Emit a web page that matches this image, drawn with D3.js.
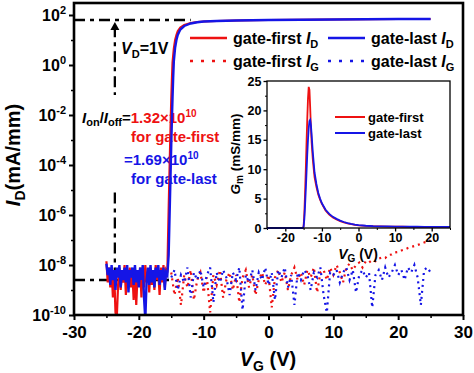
<!DOCTYPE html>
<html><head><meta charset="utf-8">
<script src="https://cdn.jsdelivr.net/npm/d3@7"></script>
<style>
body{margin:0;background:#fff}
svg{display:block}
text{font-family:"Liberation Sans",Arial,sans-serif;font-weight:bold}
</style>
</head><body>
<svg id="c" width="474" height="373"></svg>
<script>
// ---------------- DATA ----------------
const xTickValues = [-30,-20,-10,0,10,20,30];
const xMinorTicks = [-25,-15,-5,5,15,25];
const yTickExps = [-10,-8,-6,-4,-2,0,2];
const yMinorExps = [-9,-7,-5,-3,-1,1];

// I_D off-state (log10 mA/mm), V_G from -25 to -15.8 step 0.2
const idOffStart = -25, idOffStep = 0.2;
const idFirstOffLog = [-7.85,-8.7,-8.1,-8.9,-8.2,-9.3,-8.3,-9.9,-10.1,-8.8,-8.1,-9.0,-8.3,-8.7,-8.0,-9.2,-8.2,-8.6,-8.1,-8.9,-8.3,-9.4,-8.2,-9.6,-8.4,-8.8,-8.1,-9.3,-8.2,-8.9,-8.0,-8.7,-8.3,-9.1,-8.1,-8.8,-8.2,-9.0,-8.0,-8.6,-8.3,-9.2,-8.1,-8.7,-8.0,-8.9,-8.2];
const idLastOffLog = [-7.95,-8.4,-8.1,-8.8,-8.0,-8.6,-8.2,-9.0,-8.1,-8.5,-8.0,-8.9,-8.2,-8.6,-8.1,-8.7,-8.0,-9.1,-8.2,-8.5,-8.1,-8.8,-8.0,-8.7,-8.2,-8.9,-8.1,-8.6,-8.0,-9.3,-10.2,-8.6,-8.1,-8.8,-8.0,-8.7,-8.2,-8.9,-8.1,-8.5,-8.0,-8.8,-8.2,-8.6,-8.1,-9.0,-8.3];
// I_D turn-on and on-state
const idFirstOnV   = [-15.6,-15.5,-15.4,-15.3,-15.2,-15.1,-15.0,-14.9,-14.8,-14.6,-14.4,-14.2,-14.0,-13.6,-13.0,-12.0,-11,-10,-8,-5,0,5,10,15,20,25];
const idFirstOnLog = [-8.3,-7.0,-5.8,-4.6,-3.5,-2.4,-1.4,-0.6,0.1,0.65,1.0,1.2,1.35,1.5,1.6,1.68,1.72,1.74,1.76,1.78,1.8,1.81,1.82,1.83,1.84,1.84];
const idLastOnV    = [-15.6,-15.4,-15.3,-15.2,-15.1,-15.0,-14.9,-14.8,-14.7,-14.6,-14.4,-14.2,-14.0,-13.6,-13.0,-12.0,-11,-10,-8,-5,0,5,10,15,20,25];
const idLastOnLog  = [-8.4,-7.6,-6.5,-5.4,-4.3,-3.2,-2.2,-1.3,-0.5,0.15,0.7,1.0,1.2,1.42,1.56,1.66,1.71,1.74,1.76,1.78,1.8,1.81,1.82,1.83,1.84,1.84];

// I_G (log10 mA/mm), V_G from -15 to 25 step 0.5
const igStart = -15, igStep = 0.5;
const igFirstLog = [-8.3,-9.2,-8.5,-9.6,-8.4,-8.9,-8.2,-9.4,-8.6,-8.3,-9.1,-8.5,-9.9,-8.4,-8.8,-8.2,-9.3,-8.6,-8.3,-9.0,-8.4,-9.5,-8.5,-8.2,-8.9,-8.4,-9.2,-8.6,-8.3,-8.8,-8.4,-9.7,-8.5,-8.2,-8.7,-8.3,-9.0,-8.4,-8.1,-8.6,-8.3,-8.8,-8.2,-8.5,-8.1,-9.1,-8.3,-8.2,-8.6,-8.1,-8.4,-8.0,-8.3,-8.7,-8.1,-7.95,-8.2,-8.0,-7.9,-8.1,-7.85,-7.9,-7.8,-7.85,-7.75,-7.7,-7.72,-7.6,-7.58,-7.5,-7.48,-7.42,-7.38,-7.32,-7.28,-7.24,-7.2,-7.15,-7.1,-7.06,-7.02];
const igLastLog = [-8.5,-8.2,-9.0,-8.4,-8.7,-8.1,-9.3,-8.3,-8.6,-8.2,-8.9,-8.4,-8.1,-9.5,-8.3,-8.7,-8.2,-8.5,-9.2,-8.3,-8.6,-8.1,-9.8,-8.4,-8.7,-8.2,-9.0,-8.3,-8.6,-8.1,-8.8,-8.3,-9.4,-8.2,-8.5,-8.1,-8.9,-8.4,-9.6,-8.3,-8.6,-8.2,-8.4,-9.0,-8.3,-8.5,-8.1,-9.2,-9.9,-8.3,-8.4,-8.2,-8.7,-8.3,-8.1,-8.6,-8.2,-9.1,-8.4,-8.2,-8.5,-8.3,-9.7,-8.4,-8.2,-8.6,-8.1,-8.5,-8.3,-8.0,-8.4,-8.2,-8.6,-8.1,-8.3,-8.0,-8.5,-9.6,-8.2,-8.1,-8.3];

// Inset: transconductance G_m (mS/mm)
const gmV     = [-25,-20,-16,-15.2,-15,-14.8,-14.6,-14.4,-14.2,-14,-13.8,-13.6,-13.4,-13.2,-13,-12.8,-12.5,-12.2,-12,-11.5,-11,-10.5,-10,-9,-8,-7,-6,-5,-4,-3,-2,-1,0,2,4,6,8,10,12,14,16,18,20,22,24,25];
const gmFirst = [0,0,0,0,0.3,2.5,6,10,14.5,18.5,22,24,23.5,20.5,17,14.5,11.8,9.8,8.6,7.0,5.7,4.8,4.1,3.0,2.3,1.8,1.45,1.15,0.95,0.78,0.64,0.54,0.45,0.36,0.3,0.27,0.25,0.22,0.21,0.2,0.2,0.19,0.19,0.18,0.18,0.18];
const gmLast  = [0,0,0,0,0.2,1.5,3.8,6.5,9.5,12.5,15,17,18.2,18.4,17.5,15.8,13,10.8,9.4,7.5,6.0,5.0,4.2,3.1,2.4,1.9,1.55,1.25,1.02,0.84,0.7,0.58,0.48,0.38,0.32,0.29,0.26,0.24,0.22,0.21,0.21,0.2,0.2,0.2,0.2,0.2];
const insetXTicks = [-20,-10,0,10,20];
const insetXMinor = [-25,-15,-5,5,15,25];
const insetYTicks = [0,5,10,15,20,25];
const insetYMinor = [2.5,7.5,12.5,17.5,22.5];

// annotations (V_G, log10 I_D)
const vdLineV = -23.7;
const topHLine = {v0:-30, v1:-12, lg:1.8};
const botHLine = {v0:-30, v1:-15.2, lg:-8.6};
const vSegUpper = {lg0:1.55, lg1:-1.2};
const vSegLower = {lg0:-5.1, lg1:-8.35};

const legendMain = [
  {name:"gate-first", sub:"D", color:"#ee1111", dash:null,  col:0,row:0},
  {name:"gate-last",  sub:"D", color:"#1515e6", dash:null,  col:1,row:0},
  {name:"gate-first", sub:"G", color:"#ee1111", dash:"3,8", col:0,row:1},
  {name:"gate-last",  sub:"G", color:"#1515e6", dash:"3,8", col:1,row:1}
];
const RED="#ee1111", BLUE="#1515e6";

// ---------------- CHART ----------------
const svg = d3.select("#c");
const L=74,R=463,T=3,B=315;
const x = d3.scaleLinear().domain([-30,30]).range([L,R]);
const y = d3.scaleLog().domain([1e-10, Math.pow(10,2.48)]).range([B,T]);
const p10 = v => Math.pow(10,v);
const fmt = d => String(d);

svg.append("defs").append("clipPath").attr("id","clipMain")
  .append("rect").attr("x",L).attr("y",T).attr("width",R-L).attr("height",B-T);

// axes ticks
const gx = svg.append("g").attr("transform",`translate(0,${B})`)
  .call(d3.axisBottom(x).tickValues(xTickValues).tickSize(5).tickSizeOuter(0).tickPadding(6).tickFormat(fmt));
gx.select(".domain").remove();
gx.selectAll("line").attr("stroke-width",2);
gx.selectAll("text").attr("font-size",17).attr("font-family","Liberation Sans, Arial").attr("font-weight","bold").attr("fill","#000");
svg.append("g").attr("transform",`translate(0,${B})`)
  .call(d3.axisBottom(x).tickValues(xMinorTicks).tickSize(3).tickSizeOuter(0).tickFormat(""))
  .call(g=>{g.select(".domain").remove(); g.selectAll("line").attr("stroke-width",1.5);});

const gy = svg.append("g").attr("transform",`translate(${L},0)`)
  .call(d3.axisLeft(y).tickValues(yTickExps.map(p10)).tickSize(5).tickSizeOuter(0).tickFormat(""));
gy.select(".domain").remove(); gy.selectAll("line").attr("stroke-width",2);
svg.append("g").attr("transform",`translate(${L},0)`)
  .call(d3.axisLeft(y).tickValues(yMinorExps.map(p10)).tickSize(3).tickSizeOuter(0).tickFormat(""))
  .call(g=>{g.select(".domain").remove(); g.selectAll("line").attr("stroke-width",1.5);});

yTickExps.forEach(e=>{
  const t = svg.append("text").attr("x",66).attr("y",y(p10(e))+6).attr("text-anchor","end").attr("font-size",16);
  t.append("tspan").text("10");
  t.append("tspan").attr("dy",-7).attr("font-size",11).text(fmt(e));
});

// axis titles
const yl = svg.append("text").attr("transform","translate(20,155) rotate(-90)").attr("text-anchor","middle").attr("font-size",20);
yl.append("tspan").attr("font-style","italic").text("I");
yl.append("tspan").attr("font-size",14).attr("dy",5).text("D");
yl.append("tspan").attr("dy",-5).text("(mA/mm)");
const xl = svg.append("text").attr("x",268).attr("y",366).attr("text-anchor","middle").attr("font-size",20);
xl.append("tspan").attr("font-style","italic").text("V");
xl.append("tspan").attr("font-size",14).attr("dy",5).text("G");
xl.append("tspan").attr("dy",-5).text(" (V)");

// annotation texts
const vd = svg.append("text").attr("x",121).attr("y",54).attr("font-size",16);
vd.append("tspan").attr("font-style","italic").text("V");
vd.append("tspan").attr("font-size",11).attr("dy",4).text("D");
vd.append("tspan").attr("dy",-4).text("=1V");

const on = svg.append("text").attr("x",82).attr("y",123).attr("font-size",15);
on.append("tspan").attr("font-style","italic").text("I");
on.append("tspan").attr("font-size",11).attr("dy",3).text("on");
on.append("tspan").attr("dy",-3).text("/");
on.append("tspan").attr("font-style","italic").text("I");
on.append("tspan").attr("font-size",11).attr("dy",3).text("off");
on.append("tspan").attr("dy",-3).text("=");
on.append("tspan").attr("fill",RED).text("1.32\u00d710");
on.append("tspan").attr("fill",RED).attr("font-size",10).attr("dy",-6).text("10");
svg.append("text").attr("x",131).attr("y",142).attr("font-size",15).attr("fill",RED).text("for gate-first");
const on2 = svg.append("text").attr("x",124).attr("y",165).attr("font-size",15).attr("fill",BLUE);
on2.append("tspan").text("=1.69\u00d710");
on2.append("tspan").attr("font-size",10).attr("dy",-6).text("10");
svg.append("text").attr("x",131).attr("y",184).attr("font-size",15).attr("fill",BLUE).text("for gate-last");

// dash-dot guide lines
const dd = "11,5,4,5";
const guide = (x1,y1,x2,y2)=>svg.append("line").attr("x1",x1).attr("y1",y1).attr("x2",x2).attr("y2",y2)
  .attr("stroke","#000").attr("stroke-width",2.3).attr("stroke-dasharray",dd);
guide(x(topHLine.v0),y(p10(topHLine.lg)),x(topHLine.v1),y(p10(topHLine.lg)));
guide(x(botHLine.v0),y(p10(botHLine.lg)),x(botHLine.v1),y(p10(botHLine.lg)));
guide(x(vdLineV),y(p10(vSegUpper.lg0)),x(vdLineV),y(p10(vSegUpper.lg1)));
guide(x(vdLineV),y(p10(vSegLower.lg0)),x(vdLineV),y(p10(vSegLower.lg1)));
const ax = x(vdLineV), upTip = y(p10(1.72)), dnTip = y(p10(botHLine.lg));
svg.append("path").attr("d",`M${ax},${upTip} L${ax-4.5},${upTip+8} L${ax+4.5},${upTip+8}Z`).attr("fill","#000");
svg.append("path").attr("d",`M${ax},${dnTip} L${ax-4.5},${dnTip-8} L${ax+4.5},${dnTip-8}Z`).attr("fill","#000");

// data
const line = d3.line().x(d=>x(d[0])).y(d=>y(d[1]));
const dataG = svg.append("g").attr("clip-path","url(#clipMain)");
const offPts = arr => arr.map((v,i)=>[idOffStart+i*idOffStep, p10(v)]);
const onPts = (vs,ls) => vs.map((v,i)=>[v,p10(ls[i])]);
const igPts = arr => arr.map((v,i)=>[igStart+i*igStep, p10(v)]);

dataG.append("path").datum(igPts(igFirstLog)).attr("d",line).attr("fill","none").attr("stroke",RED).attr("stroke-width",2.2).attr("stroke-dasharray","2,4");
dataG.append("path").datum(igPts(igLastLog)).attr("d",line).attr("fill","none").attr("stroke",BLUE).attr("stroke-width",2.2).attr("stroke-dasharray","2,4");
dataG.append("path").datum(offPts(idFirstOffLog).concat(onPts(idFirstOnV,idFirstOnLog))).attr("d",line).attr("fill","none").attr("stroke",RED).attr("stroke-width",2.2);
dataG.append("path").datum(offPts(idLastOffLog).concat(onPts(idLastOnV,idLastOnLog))).attr("d",line).attr("fill","none").attr("stroke",BLUE).attr("stroke-width",2.4);

// frame
svg.append("rect").attr("x",L).attr("y",T).attr("width",R-L).attr("height",B-T).attr("fill","none").attr("stroke","#000").attr("stroke-width",2.6);

// legend
legendMain.forEach(d=>{
  const lx = d.col===0 ? 190 : 328, ly = d.row===0 ? 38 : 61;
  svg.append("line").attr("x1",lx).attr("x2",lx+37).attr("y1",ly).attr("y2",ly).attr("stroke",d.color).attr("stroke-width",2.5).attr("stroke-dasharray",d.dash);
  const t = svg.append("text").attr("x",lx+43).attr("y",ly+6).attr("font-size",16);
  t.append("tspan").text(d.name+" ");
  t.append("tspan").attr("font-style","italic").text("I");
  t.append("tspan").attr("font-size",11).attr("dy",4).text(d.sub);
});

// ---------------- INSET ----------------
const iL=267,iR=450,iT=81,iB=228;
const xi = d3.scaleLinear().domain([-25,25]).range([iL,iR]);
const yi = d3.scaleLinear().domain([0,25]).range([iB,iT]);
svg.append("rect").attr("x",iL).attr("y",iT).attr("width",iR-iL).attr("height",iB-iT).attr("fill","#fff");
const gxi = svg.append("g").attr("transform",`translate(0,${iB})`)
  .call(d3.axisBottom(xi).tickValues(insetXTicks).tickSize(3.5).tickSizeOuter(0).tickPadding(2).tickFormat(fmt));
gxi.select(".domain").remove();
gxi.selectAll("line").attr("stroke-width",1.3);
gxi.selectAll("text").attr("font-size",12.5).attr("font-family","Liberation Sans, Arial").attr("font-weight","bold").attr("fill","#000");
svg.append("g").attr("transform",`translate(0,${iB})`)
  .call(d3.axisBottom(xi).tickValues(insetXMinor).tickSize(2).tickSizeOuter(0).tickFormat(""))
  .call(g=>{g.select(".domain").remove(); g.selectAll("line").attr("stroke-width",1);});
const gyi = svg.append("g").attr("transform",`translate(${iL},0)`)
  .call(d3.axisLeft(yi).tickValues(insetYTicks).tickSize(3.5).tickSizeOuter(0).tickPadding(2).tickFormat(fmt));
gyi.select(".domain").remove();
gyi.selectAll("line").attr("stroke-width",1.3);
gyi.selectAll("text").attr("font-size",12.5).attr("font-family","Liberation Sans, Arial").attr("font-weight","bold").attr("fill","#000");
svg.append("g").attr("transform",`translate(${iL},0)`)
  .call(d3.axisLeft(yi).tickValues(insetYMinor).tickSize(2).tickSizeOuter(0).tickFormat(""))
  .call(g=>{g.select(".domain").remove(); g.selectAll("line").attr("stroke-width",1);});

const iline = d3.line().x((d,i)=>xi(gmV[i])).y(d=>yi(d));
svg.append("path").datum(gmFirst).attr("d",iline).attr("fill","none").attr("stroke",RED).attr("stroke-width",1.8);
svg.append("path").datum(gmLast).attr("d",iline).attr("fill","none").attr("stroke",BLUE).attr("stroke-width",1.8);
svg.append("rect").attr("x",iL).attr("y",iT).attr("width",iR-iL).attr("height",iB-iT).attr("fill","none").attr("stroke","#000").attr("stroke-width",1.3);

const gl = svg.append("text").attr("transform","translate(240,154) rotate(-90)").attr("text-anchor","middle").attr("font-size",13.5);
gl.append("tspan").attr("font-style","italic").text("G");
gl.append("tspan").attr("font-size",10).attr("dy",3).text("m");
gl.append("tspan").attr("dy",-3).text(" (mS/mm)");
const vl = svg.append("text").attr("x",358).attr("y",259).attr("text-anchor","middle").attr("font-size",14);
vl.append("tspan").attr("font-style","italic").text("V");
vl.append("tspan").attr("font-size",10).attr("dy",3).text("G");
vl.append("tspan").attr("dy",-3).text(" (V)");

[{name:"gate-first",color:RED,y:117},{name:"gate-last",color:BLUE,y:133}].forEach(d=>{
  svg.append("line").attr("x1",335).attr("x2",365).attr("y1",d.y).attr("y2",d.y).attr("stroke",d.color).attr("stroke-width",2);
  svg.append("text").attr("x",368).attr("y",d.y+5).attr("font-size",13).text(d.name);
});
</script>
</body></html>
